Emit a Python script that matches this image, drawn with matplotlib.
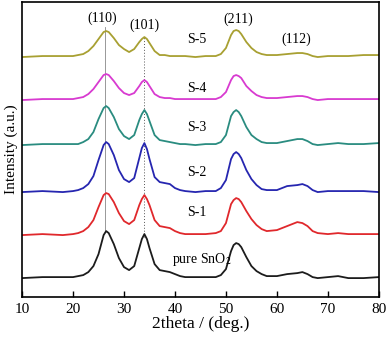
import matplotlib

matplotlib.use('Agg')
import matplotlib.pyplot as plt

plt.rcParams['font.family'] = ['Liberation Serif', 'DejaVu Serif']
plt.rcParams['mathtext.fontset'] = 'stix'

# 2theta grid (deg.) and intensity above each pattern's own baseline (a.u.)
two_theta = [10, 14, 18, 20, 21, 22, 23, 24, 25, 26, 26.5, 27, 28, 29, 30, 31, 32, 33, 33.5, 34,
             34.5, 35, 36, 37, 38, 39, 40, 41, 42, 44, 46, 48, 49, 50, 51, 51.5, 52, 52.5, 53, 54,
             55, 56, 57, 58, 60, 62, 64, 65, 66, 67, 68, 70, 72, 74, 77, 80]

pure = [0, 1, 1, 1, 2, 3, 6, 12, 24, 43, 47, 45, 34, 20, 11, 8, 12, 30, 39, 44,
        39, 30, 14, 8, 7, 6, 4, 2, 1, 1, 1, 1, 3, 9, 27, 33, 35, 34, 31, 21,
        12, 7, 4, 2, 2, 4, 5, 6, 4, 1, 0, 1, 2, 0, 0, 1]
s1 = [0, 1, 0, 1, 2, 4, 8, 15, 28, 40, 42, 41, 33, 22, 14, 11, 15, 30, 36, 40,
      36, 30, 15, 9, 8, 7, 4, 2, 1, 1, 1, 2, 4, 12, 31, 35, 37, 36, 33, 24,
      16, 10, 6, 4, 5, 9, 13, 12, 9, 4, 2, 1, 2, 1, 1, 1]
s2 = [0, 1, 0, 1, 2, 4, 8, 16, 32, 47, 50, 48, 37, 22, 13, 10, 14, 34, 44, 49,
      43, 33, 15, 10, 9, 8, 4, 2, 1, 0, 1, 1, 4, 12, 33, 38, 40, 38, 34, 22,
      13, 7, 3, 2, 2, 6, 7, 8, 6, 2, 0, 1, 1, 1, 1, 0]
s3 = [0, 1, 1, 1, 1, 3, 6, 13, 26, 37, 39, 37, 28, 16, 9, 6, 10, 25, 31, 35,
      31, 24, 10, 5, 4, 3, 2, 1, 1, 0, 1, 1, 3, 10, 29, 33, 35, 33, 29, 18,
      10, 6, 3, 2, 2, 4, 6, 6, 4, 1, 0, 1, 2, 1, 1, 2]
s4 = [0, 1, 1, 1, 2, 3, 6, 11, 18, 25, 26, 25, 19, 12, 7, 5, 7, 14, 18, 20,
      18, 14, 6, 3, 2, 2, 1, 1, 1, 1, 1, 1, 3, 8, 20, 24, 25, 24, 22, 14,
      9, 5, 3, 2, 2, 3, 4, 4, 3, 1, 0, 1, 1, 1, 1, 1]
s5 = [0, 1, 1, 1, 2, 3, 6, 11, 18, 25, 26, 25, 19, 12, 8, 5, 8, 15, 18, 20,
      18, 14, 6, 2, 2, 1, 1, 1, 1, 0, 1, 1, 3, 9, 22, 26, 27, 26, 23, 15,
      9, 5, 3, 2, 2, 3, 4, 4, 3, 1, 0, 1, 1, 1, 2, 2]

samples = ['pure SnO$_2$', 'S-1', 'S-2', 'S-3', 'S-4', 'S-5']
offsets = [19, 62, 105, 152, 197, 240]
label_y = [38, 85, 125, 170, 209, 258]
colors = ['#1c1c1c', '#e0282c', '#2626b0', '#2a8c80', '#d83ad0', '#a8a032']

planes = ['(110)', '(101)', '(211)', '(112)']
plane_x = [25.7, 34.1, 52.4, 63.7]
plane_y = [279, 272, 278, 258]

fig = plt.figure(figsize=(3.87, 3.38), dpi=100)
ax = fig.add_axes([0.057, 0.121, 0.922, 0.873])

for series, off, col in zip([pure, s1, s2, s3, s4, s5], offsets, colors):
    ax.plot(two_theta, [v + off for v in series], color=col, lw=1.3)

for name, ly in zip(samples, label_y):
    x = 39.4 if name.startswith('pure') else 42.4
    ax.text(x, ly, name, fontsize=10, ha='left', va='center')

for p, px, py in zip(planes, plane_x, plane_y):
    ax.text(px, py, p, fontsize=10, ha='center', va='center')

# reference lines through the two strongest reflections
ax.plot([26.3, 26.3], [65, 270], color='#888888', lw=0.6, zorder=0)
ax.plot([33.9, 33.9], [60, 260], color='#555555', lw=0.7, ls=(0, (1, 2)), zorder=0)

ax.set_xlim(10, 80)
ax.set_ylim(0, 295)
ax.set_xticks(range(10, 81, 10))
ax.set_yticks([])
ax.tick_params(axis='x', direction='in', length=4, width=1, labelsize=11, pad=4)
for s in ax.spines.values():
    s.set_linewidth(1.2)
ax.set_xlabel('2theta / (deg.)', fontsize=12.5, labelpad=0)
ax.set_ylabel('Intensity (a.u.)', fontsize=11, labelpad=3)

fig.savefig('out.png', dpi=100)
